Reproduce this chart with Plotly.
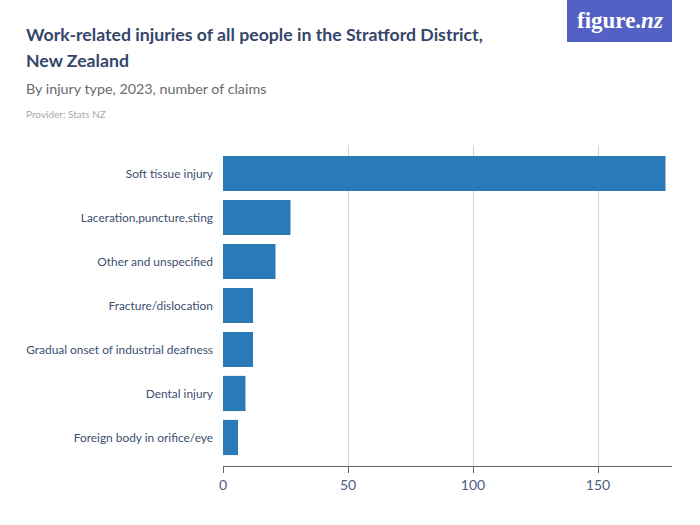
import plotly.graph_objects as go

# injury types, top bar first
categories = [
    "Soft tissue injury",
    "Laceration,puncture,sting",
    "Other and unspecified",
    "Fracture/dislocation",
    "Gradual onset of industrial deafness",
    "Dental injury",
    "Foreign body in orifice/eye",
]
claims = [177, 27, 21, 12, 12, 9, 6]
x_ticks = [0, 50, 100, 150]

title_lines = ["Work-related injuries of all people in the Stratford District,", "New Zealand"]
subtitle_text = "By injury type, 2023, number of claims"
provider_text = "Provider: Stats NZ"
logo_text = "<b>figure.<i>nz</i></b>"

FONT = "Lato"
W, H = 700, 525
LEFT, RIGHT, TOP, BOTTOM = 223, 28, 145, 59


def text(label, x, y, size, color, family=FONT, anchor="left", weight="normal"):
    return dict(
        text=label,
        xref="paper",
        yref="paper",
        x=(x - LEFT) / (W - LEFT - RIGHT),
        y=1 - (y - TOP) / (H - TOP - BOTTOM),
        xanchor=anchor,
        yanchor="middle",
        showarrow=False,
        align="left",
        font=dict(family=family, size=size, color=color, weight=weight),
    )


fig = go.Figure(
    go.Bar(
        x=claims,
        y=categories,
        orientation="h",
        marker=dict(color="#2a7ab8", line=dict(width=0)),
        hoverinfo="skip",
    )
)

fig.update_layout(
    width=W,
    height=H,
    autosize=False,
    margin=dict(l=LEFT, r=RIGHT, t=TOP, b=BOTTOM, autoexpand=False),
    paper_bgcolor="white",
    plot_bgcolor="white",
    bargap=0.2,
    showlegend=False,
    font=dict(family=FONT, color="#3d4f70"),
    annotations=[
        text(title_lines[0], 24, 35, 17.7, "#34466a", weight="bold"),
        text(title_lines[1], 24, 61, 17.7, "#34466a", weight="bold"),
        text(subtitle_text, 24, 88, 14.3, "#6a6a6a"),
        text(provider_text, 24, 114, 10, "#a8a8a8"),
        text(logo_text, 619.5, 20, 23, "white", family="Liberation Serif", anchor="center"),
    ],
    xaxis=dict(
        range=[0, 179.6],
        tickvals=x_ticks,
        ticks="outside",
        ticklen=6,
        tickcolor="#666666",
        tickfont=dict(size=14, color="#4d5e80"),
        showgrid=True,
        gridcolor="#d4d4d4",
        gridwidth=1,
        zeroline=False,
        showline=True,
        linecolor="#666666",
        linewidth=1,
        automargin=False,
    ),
    yaxis=dict(
        categoryorder="array",
        categoryarray=categories,
        range=[6.648, -0.648],
        ticks="",
        ticklabelstandoff=9,
        tickfont=dict(size=11.9, color="#3d4f70"),
        showgrid=False,
        zeroline=False,
        showline=False,
        automargin=False,
    ),
    shapes=[
        dict(
            type="rect",
            xref="paper",
            yref="paper",
            x0=(567 - LEFT) / (W - LEFT - RIGHT),
            x1=1,
            y0=1 - (42 - TOP) / (H - TOP - BOTTOM),
            y1=1 - (0 - TOP) / (H - TOP - BOTTOM),
            fillcolor="#5360c4",
            line=dict(width=0),
            layer="below",
        )
    ],
)

# the reference has no page margin around the figure
fig.write_html(
    "out.html",
    config=dict(displayModeBar=False),
    post_script="document.body.style.margin = '0';",
)
